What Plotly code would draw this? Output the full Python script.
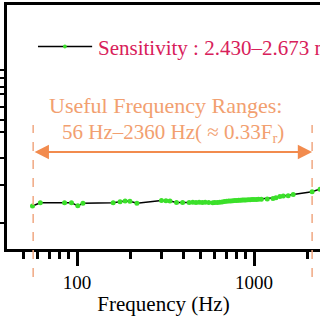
import math
import plotly.graph_objects as go

# ---- data ----
freq_hz = [56, 62, 85, 93, 101, 108, 160, 175, 187, 199, 218, 300, 318, 335, 365, 395,
           430, 451, 470, 490, 510, 530, 555, 585, 600, 620, 640, 660, 680, 700, 720,
           740, 760, 780, 800, 820, 840, 860, 880, 900, 925, 950, 975, 1000, 1030, 1060,
           1100, 1188, 1280, 1330, 1400, 1463, 1560, 1665, 2130, 2360, 2600]
sensitivity = [2.430, 2.463, 2.463, 2.463, 2.432, 2.458, 2.463, 2.472, 2.480, 2.478,
               2.457, 2.484, 2.482, 2.480, 2.466, 2.464, 2.466, 2.467, 2.466, 2.467,
               2.466, 2.467, 2.465, 2.463, 2.464, 2.466, 2.468, 2.471, 2.474, 2.477,
               2.479, 2.481, 2.483, 2.484, 2.486, 2.487, 2.488, 2.489, 2.490, 2.491,
               2.492, 2.493, 2.494, 2.495, 2.496, 2.497, 2.498, 2.500, 2.505, 2.512,
               2.526, 2.530, 2.533, 2.545, 2.573, 2.597, 2.625]
band_edges_hz = [56.5, 2130]
x_major_ticks = [100, 1000]
x_major_labels = ["100", "1000"]
x_minor_ticks = [50, 60, 70, 80, 90, 200, 300, 400, 500, 600, 700, 800, 900, 2000]
y_ticks = [2.26, 2.64, 2.91, 3.17, 3.29, 3.42, 3.55, 3.62, 3.71, 3.79]
legend_text = "Sensitivity : 2.430–2.673 mV/Pa"
range_title = "Useful Frequency Ranges:"
range_text = "56 Hz–2360 Hz( ≈ 0.33F<sub>r</sub>)"
x_title = "Frequency (Hz)"

FONT = "Liberation Serif"
ORANGE_TXT = "#F2A070"
ORANGE_ARROW = "#F28B4E"
ORANGE_DASH = "#F0A882"
CRIMSON = "#D8205A"
GREEN = "#3BE02A"

fig = go.Figure()
fig.add_trace(go.Scatter(
    x=freq_hz, y=sensitivity, mode="lines+markers",
    line=dict(color="black", width=1.5),
    marker=dict(color=GREEN, size=5, symbol="circle"),
    showlegend=False, cliponaxis=True,
))

# dashed band edges
shapes = []
for f in band_edges_hz:
    shapes.append(dict(type="line", xref="x", yref="paper", x0=f, x1=f,
                       y0=-0.115, y1=0.508,
                       line=dict(color=ORANGE_DASH, width=1.5, dash="dash")))
# legend sample
shapes.append(dict(type="line", xref="paper", yref="paper", x0=0.099, x1=0.272,
                   y0=0.83, y1=0.83, line=dict(color="black", width=1.5)))
shapes.append(dict(type="circle", xref="paper", yref="paper",
                   x0=0.185 - 0.006, x1=0.185 + 0.006, y0=0.83 - 0.008, y1=0.83 + 0.008,
                   fillcolor=GREEN, line=dict(width=0)))

annotations = [
    dict(xref="paper", yref="paper", x=0.284, y=0.822, xanchor="left", yanchor="middle",
         text=legend_text, showarrow=False, font=dict(family=FONT, size=21, color=CRIMSON)),
    dict(xref="paper", yref="paper", x=0.505, y=0.590, xanchor="center", yanchor="middle",
         text=range_title, showarrow=False, font=dict(family=FONT, size=22, color=ORANGE_TXT)),
    dict(xref="paper", yref="paper", x=0.530, y=0.475, xanchor="center", yanchor="middle",
         text=range_text, showarrow=False, font=dict(family=FONT, size=21, color=ORANGE_TXT)),
    dict(xref="x", yref="paper", x=math.log10(band_edges_hz[1]), y=0.3975,
         axref="x", ayref="pixel", ax=math.log10(band_edges_hz[0]), ay=0,
         text="", showarrow=True, arrowside="end+start", arrowhead=2,
         arrowsize=1.3, arrowwidth=2.2, arrowcolor=ORANGE_ARROW, standoff=0, startstandoff=0),
]

fig.update_layout(
    width=320, height=320,
    margin=dict(l=7, r=0, t=5, b=71, pad=0),
    paper_bgcolor="white", plot_bgcolor="white",
    shapes=shapes, annotations=annotations,
    font=dict(family=FONT, color="black"),
    showlegend=False,
)
fig.update_xaxes(
    type="log", range=[math.log10(40.2), math.log10(2360)],
    showgrid=False, zeroline=False,
    showline=True, linecolor="black", linewidth=2.5, mirror=True,
    tickmode="array", tickvals=x_major_ticks, ticktext=x_major_labels,
    ticks="outside", ticklen=14, tickwidth=2.5, tickcolor="black",
    tickfont=dict(family=FONT, size=19, color="black"),
    minor=dict(tickmode="array", tickvals=x_minor_ticks, ticks="outside",
               ticklen=7, tickwidth=2.5, tickcolor="black", showgrid=False),
    title=dict(text=x_title, font=dict(family=FONT, size=21, color="black"), standoff=5),
)
fig.update_yaxes(
    range=[2.0, 4.44], showgrid=False, zeroline=False,
    showline=True, linecolor="black", linewidth=3,
    tickmode="array", tickvals=y_ticks, showticklabels=False,
    ticks="outside", ticklen=7, tickwidth=2, tickcolor="black",
)

fig.write_html("out.html")
